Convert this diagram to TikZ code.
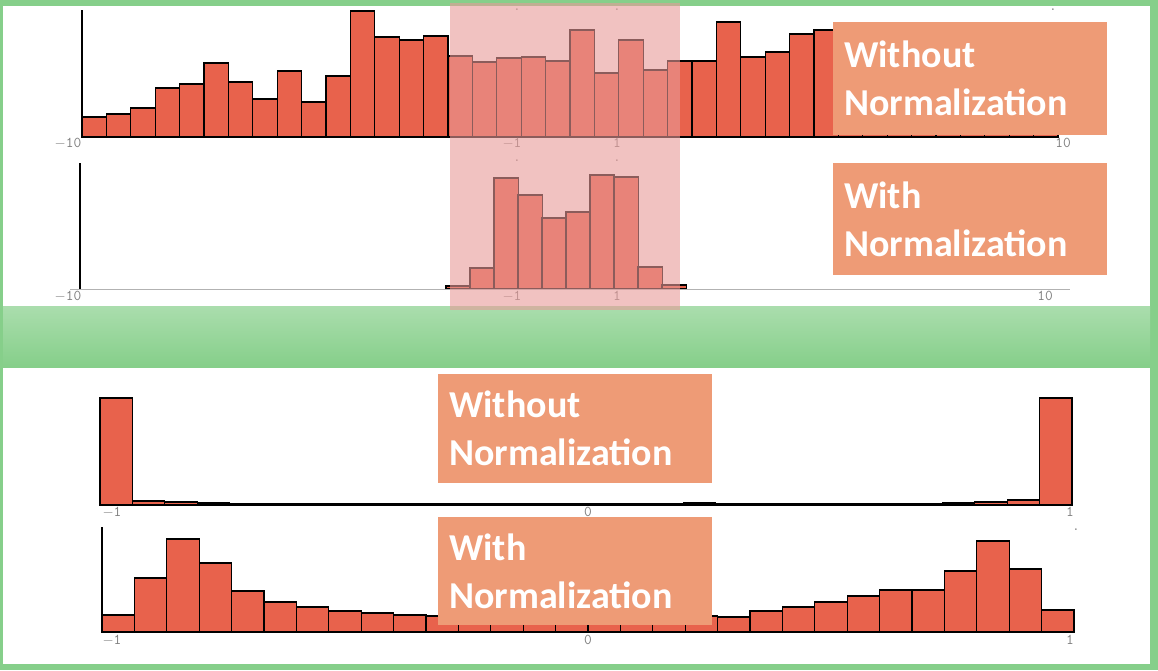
\documentclass[tikz,border=0pt]{standalone}
\usepackage{fontspec}
\setmainfont{Carlito}
\begin{document}
\begin{tikzpicture}[x=1pt,y=-1pt,
  bar/.style={fill=barc,draw=black,line width=1.3pt},
  lab/.style={fill=boxc,text=white,font=\bfseries\fontsize{38}{48}\selectfont,align=left,anchor=north west,inner sep=0pt,text width=#1},
  tick/.style={text=gray,font=\ttfamily\fontsize{15}{15}\selectfont,inner sep=0pt},
  axisl/.style={line width=2pt,draw=black}]
\definecolor{barc}{HTML}{E8624C}
\definecolor{boxc}{HTML}{EE9B76}
\definecolor{grn}{HTML}{86CF8A}
\definecolor{hl}{HTML}{E89A98}
\fill[grn] (0,0) rectangle (1158,670);
\useasboundingbox (0,0) rectangle (1158,670);
\fill[white] (3,6) rectangle (1150,306);
\fill[white] (3,368) rectangle (1150,664);
\shade[top color=grn!70, bottom color=grn] (3,306) rectangle (1150,366);
% top histogram 1
\foreach \h [count=\i from 0] in {117,114,108,88,84,63,82,99,71,102,76,11,37,40,36,56,62,58,57,61,30,73,40,70,61,61,22,57,52,34,30,30,40,35,50,45,60,70,90,110}
  \draw[bar] ({82+24.4*\i},137) rectangle ({82+24.4*(\i+1)},\h);
\draw[axisl] (82,137) -- (82,10);
\node[tick] (t1a) at (68,143) {$-$10};
\node[tick] (t1b) at (512,143) {$-$1};
\node[tick] (t1c) at (617,143) {1};
\node[tick] (t1d) at (1063,143) {10};
\node[tick] (d1) at (517,10) {.};
\node[tick] (d2) at (617,10) {.};
\node[tick] (d3) at (1053,10) {.};
% top histogram 2
\foreach \a/\h in {446/286,470/268,494/178,518/195,542/218,566/212,590/175,614/177,638/267,662/285}
  \draw[bar] (\a,289) rectangle ({\a+24.4},\h);
\draw[axisl] (80,289) -- (80,163);
\draw[gray!60] (70,289) -- (1070,289);
\node[tick] (t2a) at (68,296) {$-$10};
\node[tick] (t2b) at (512,296) {$-$1};
\node[tick] (t2c) at (617,296) {1};
\node[tick] (t2d) at (1045,296) {10};
\node[tick] (d4) at (517,161) {.};
\node[tick] (d5) at (617,161) {.};
% highlight
\fill[hl,opacity=0.6] (450,3) rectangle (680,310);
% bottom histogram 1
\foreach \h [count=\i from 0] in {398,501,502,503,504,504,504,504,504,504,504,504,504,504,504,504,504,504,503,504,504,504,504,504,504,504,503,502,500,398}
  \draw[bar] ({100+32.4*\i},505) rectangle ({100+32.4*(\i+1)},\h);
\draw[axisl] (100,505) -- (100,398);
\node[tick] (t3a) at (112,512) {$-$1};
\node[tick] (t3b) at (588,512) {0};
\node[tick] (t3c) at (1070,512) {1};
% bottom histogram 2
\foreach \h [count=\i from 0] in {17,54,93,69,41,30,25,21,19,17,16,15,14,14,14,14,14,15,16,15,21,25,30,36,42,42,61,91,63,22}
  \draw[bar] ({102+32.4*\i},632) rectangle ({102+32.4*(\i+1)},{632-\h});
\draw[axisl] (102,632) -- (102,527);
\node[tick] (t4a) at (112,640) {$-$1};
\node[tick] (t4b) at (588,640) {0};
\node[tick] (t4c) at (1070,640) {1};
\node[tick] (d6) at (1076,530) {.};
% labels
\node[lab=274pt,minimum height=113pt] (b1) at (833,22) {\hspace*{11pt}Without\\\hspace*{11pt}Normalization};
\node[lab=274pt,minimum height=112pt] (b2) at (833,163) {\hspace*{11pt}With\\\hspace*{11pt}Normalization};
\node[lab=274pt,minimum height=109pt] (b3) at (438,374) {\hspace*{11pt}Without\\\hspace*{11pt}Normalization};
\node[lab=274pt,minimum height=108pt] (b4) at (438,517) {\hspace*{11pt}With\\\hspace*{11pt}Normalization};
\end{tikzpicture}
\end{document}
